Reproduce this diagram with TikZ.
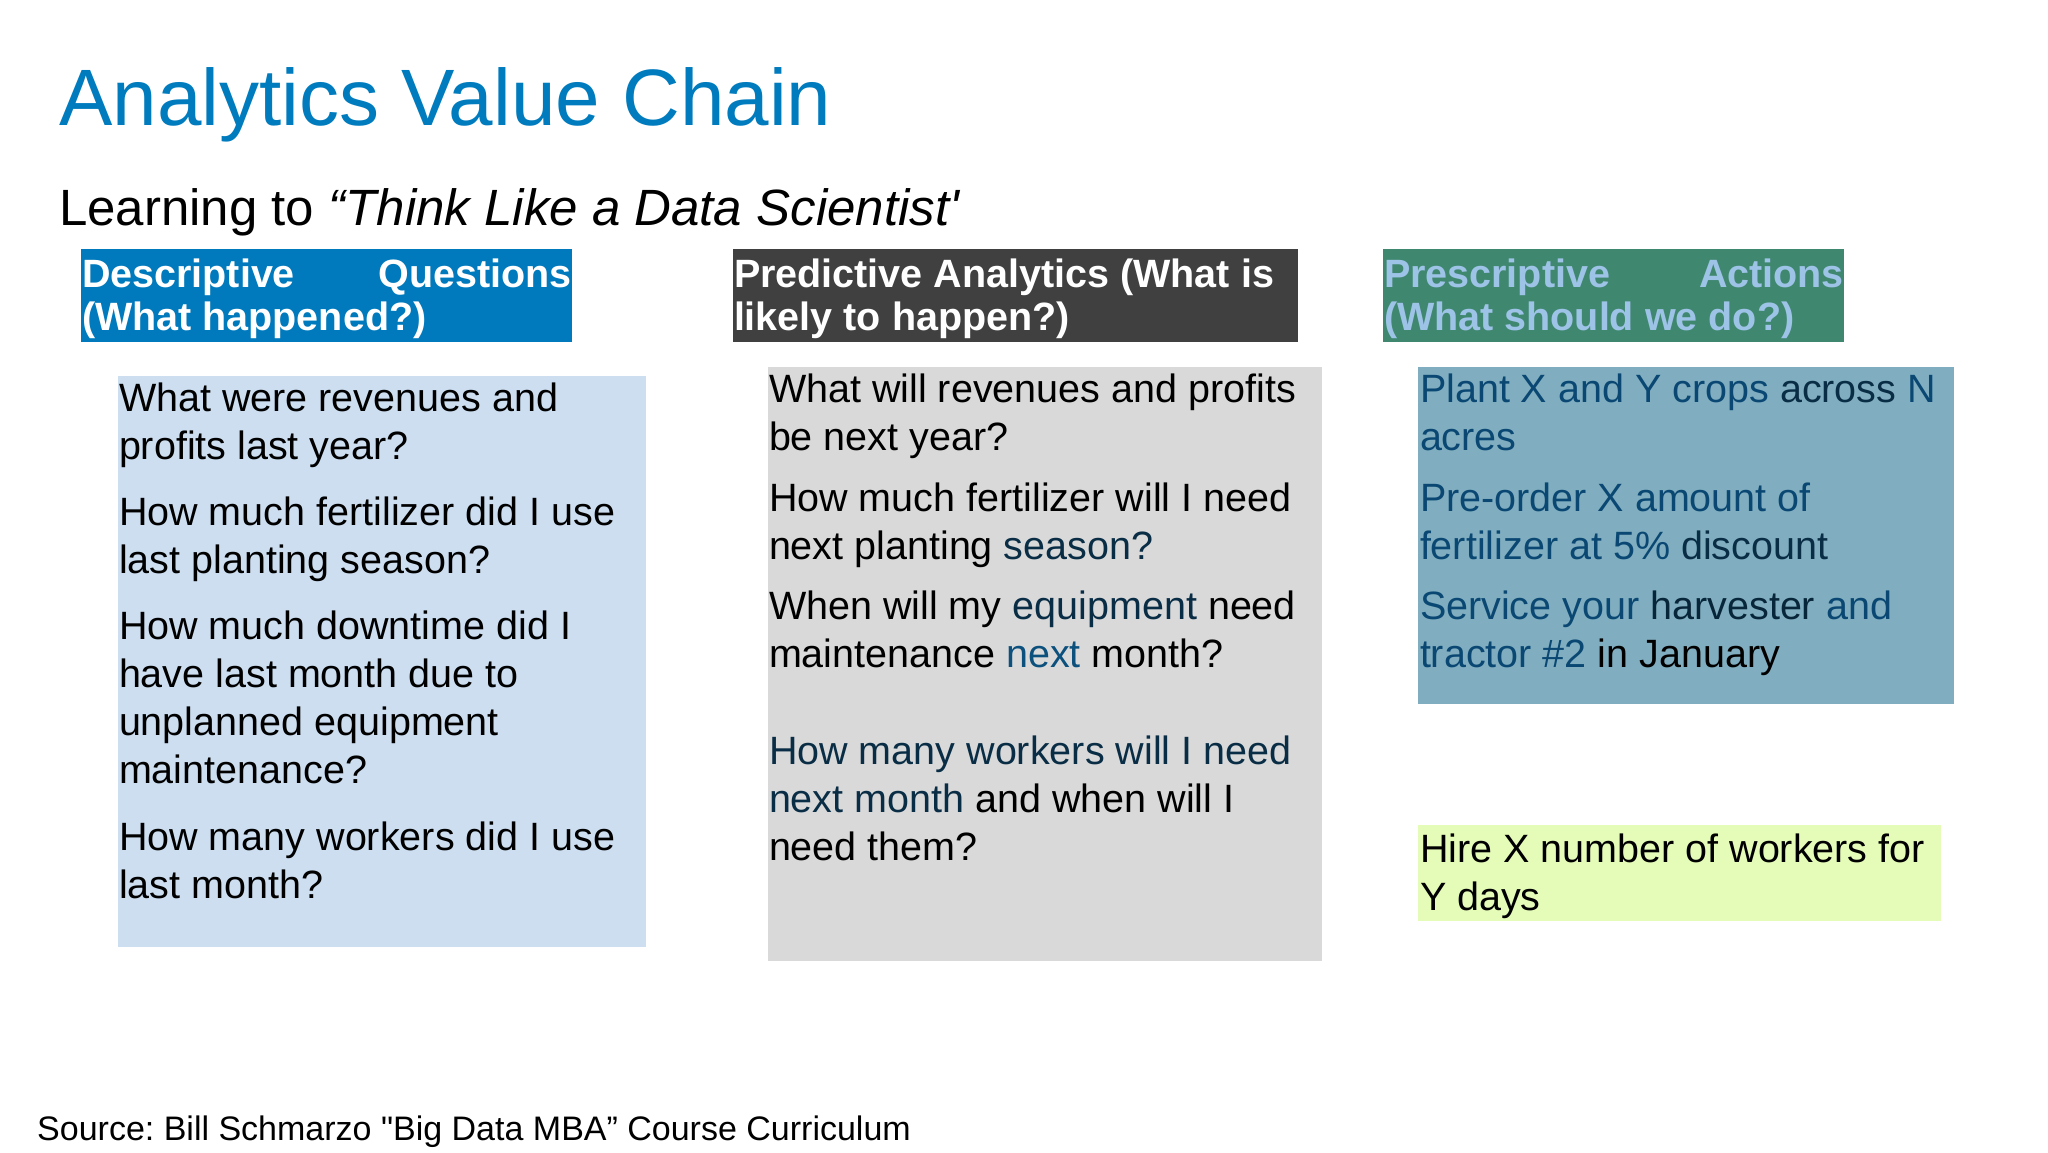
\documentclass[tikz,border=0pt]{standalone}
\usepackage{fontspec}
\setmainfont{Liberation Sans}
\frenchspacing
\definecolor{titleblue}{RGB}{0,124,190}
\definecolor{hblue}{RGB}{0,122,188}
\definecolor{hgray}{RGB}{64,64,64}
\definecolor{hgreen}{RGB}{64,135,112}
\definecolor{hgtext}{RGB}{157,195,230}
\definecolor{lightblue}{RGB}{204,222,240}
\definecolor{lightgray}{RGB}{217,217,217}
\definecolor{steel}{RGB}{128,174,192}
\definecolor{lime}{RGB}{229,251,184}
\definecolor{tblue}{RGB}{10,72,115}
\definecolor{tnavy}{RGB}{10,45,70}
\definecolor{tdark}{RGB}{8,38,58}
\definecolor{tmid}{RGB}{12,80,125}
\tikzset{
  panel/.style={draw=none, inner sep=0pt, outer sep=0pt, anchor=north west},
  body/.style={anchor=base west, inner sep=0pt, outer sep=0pt, font=\fontsize{39.5}{48.3}\selectfont},
  head/.style={anchor=base west, inner sep=0pt, outer sep=0pt, font=\bfseries\fontsize{39.5}{43.5}\selectfont},
}
\begin{document}
\begin{tikzpicture}[x=1pt,y=-1pt]
\useasboundingbox (0,0) rectangle (2048,1152);
\fill[white] (0,0) rectangle (2048,1152);

% title
\node[anchor=base west, inner sep=0pt, font=\fontsize{80}{90}\selectfont, text=titleblue] (title) at (59,125) {Analytics Value Chain};
\node[anchor=base west, inner sep=0pt, font=\fontsize{51}{60}\selectfont] (subtitle) at (59,225) {Learning to \textit{“Think Like a Data Scientist\textquotesingle}};

% header boxes
\node[panel, fill=hblue, minimum width=491pt, minimum height=93pt] (h1) at (81,249) {};
\node[panel, fill=hgray, minimum width=565pt, minimum height=93pt] (h2) at (733,249) {};
\node[panel, fill=hgreen, minimum width=461pt, minimum height=93pt] (h3) at (1383,249) {};

\node[head, text=white] (h1t) at (82,287) {\parbox[t]{490pt}{Descriptive\hfill Questions\\(What happened?)}};
\node[head, text=white] (h2t) at (734,287) {\parbox[t]{564pt}{Predictive Analytics (What is\\likely to happen?)}};
\node[head, text=hgtext] (h3t) at (1384,287) {\parbox[t]{460pt}{Prescriptive\hfill Actions\\(What should we do?)}};

% content boxes
\node[panel, fill=lightblue, minimum width=528pt, minimum height=571pt] (c1) at (118,376) {};
\node[panel, fill=lightgray, minimum width=554pt, minimum height=594pt] (c2) at (768,367) {};
\node[panel, fill=steel, minimum width=536pt, minimum height=337pt] (c3) at (1418,367) {};
\node[panel, fill=lime, minimum width=523pt, minimum height=96pt] (c4) at (1418,825) {};

% column 1
\node[body] (p11) at (119,411) {\parbox[t]{600pt}{What were revenues and\\profits last year?}};
\node[body] (p12) at (119,525) {\parbox[t]{600pt}{How much fertilizer did I use\\last planting season?}};
\node[body] (p13) at (119,639) {\parbox[t]{600pt}{How much downtime did I\\have last month due to\\unplanned equipment\\maintenance?}};
\node[body] (p14) at (119,850) {\parbox[t]{600pt}{How many workers did I use\\last month?}};

% column 2
\node[body] (p21) at (769,402) {\parbox[t]{600pt}{What will revenues and profits\\be next year?}};
\node[body] (p22) at (769,511) {\parbox[t]{600pt}{How much fertilizer will I need\\next planting \textcolor{tnavy}{season?}}};
\node[body] (p23) at (769,619) {\parbox[t]{600pt}{When will my \textcolor{tnavy}{equipment} need\\maintenance \textcolor{tmid}{next} month?}};
\node[body] (p24) at (769,764) {\parbox[t]{600pt}{\leavevmode\textcolor{tnavy}{How many workers will I need}\\\textcolor{tnavy}{next month} and when will I\\need them?}};

% column 3
\node[body] (p31) at (1420,402) {\parbox[t]{600pt}{\leavevmode\textcolor{tblue}{Plant X and Y crops} \textcolor{tnavy}{across} \textcolor{tblue}{N}\\\textcolor{tblue}{acres}}};
\node[body] (p32) at (1420,511) {\parbox[t]{600pt}{\leavevmode\textcolor{tblue}{Pre-order X amount of}\\\textcolor{tblue}{fertilizer at 5\%} \textcolor{tnavy}{discount}}};
\node[body] (p33) at (1420,619) {\parbox[t]{600pt}{\leavevmode\textcolor{tblue}{Service your} \textcolor{tdark}{harvester} \textcolor{tblue}{and}\\\textcolor{tblue}{tractor \#2} in January}};
\node[body] (p41) at (1420,862) {\parbox[t]{600pt}{Hire X number of workers for\\Y days}};

% source
\node[anchor=base west, inner sep=0pt, font=\fontsize{34}{40}\selectfont] (source) at (37,1140) {Source: Bill Schmarzo \textquotedbl Big Data MBA” Course Curriculum};
\end{tikzpicture}
\end{document}
